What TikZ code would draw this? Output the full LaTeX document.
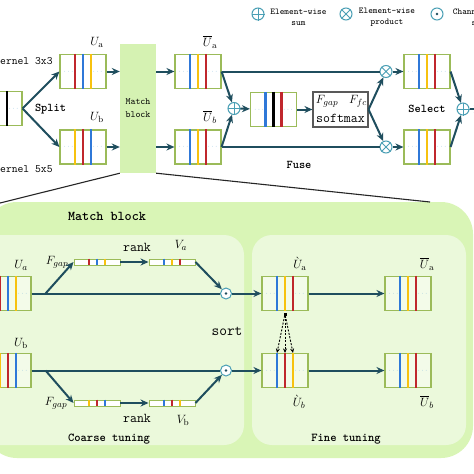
\documentclass[tikz,border=0pt]{standalone}
\usetikzlibrary{arrows.meta,calc}
\definecolor{olv}{HTML}{9BBB59}
\definecolor{cR}{HTML}{C0272D}
\definecolor{cB}{HTML}{2F78D8}
\definecolor{cY}{HTML}{F7C20F}
\definecolor{tealA}{HTML}{1F4E5E}
\definecolor{symc}{HTML}{4A9FB5}
\definecolor{mbg}{HTML}{D5F2B2}
\definecolor{outg}{HTML}{D9F5B6}
\definecolor{ing}{HTML}{EBF9DB}
\definecolor{dotc}{HTML}{7FB8DA}
\newcommand\chanbox[7]{%
  \node[#1] (#2) at (#3,#4) {};
  \foreach \o/\c in {-8/#5,0/#6,8/#7}{\draw[line width=2.2pt,draw=\c] ([xshift=\o pt]#2.north) -- ([xshift=\o pt]#2.south);}
  \node[dotsty] (#2-dl) at ([xshift=-14.5pt]#2.center) {$\cdots$};
  \node[dotsty] (#2-dr) at ([xshift=14.5pt]#2.center) {$\cdots$};
}
\newcommand\chanbar[6]{%
  \node[thinbar] (#1) at (#2,#3) {};
  \foreach \o/\c in {-8/#4,0/#5,8/#6}{\draw[line width=1.8pt,draw=\c] ([xshift=\o pt]#1.north) -- ([xshift=\o pt]#1.south);}
}
\newcommand\plussym[1]{\draw[symc,line width=0.9pt] (#1.north)--(#1.south) (#1.east)--(#1.west);}
\newcommand\timessym[1]{\draw[symc,line width=0.9pt] (#1.north east)--(#1.south west) (#1.north west)--(#1.south east);}
\newcommand\dotsym[1]{\fill[tealA] (#1.center) circle (1.3);}
\begin{document}
\begin{tikzpicture}[x=1pt,y=-1pt,
  chbox/.style={draw=olv,line width=1.1pt,fill=white,minimum width=46pt,minimum height=34pt,inner sep=0pt},
  chboxb/.style={chbox,fill=ing!60!white},
  thinbar/.style={draw=olv,line width=0.9pt,fill=white,minimum width=46pt,minimum height=6pt,inner sep=0pt},
  dotsty/.style={font=\fontsize{7.5}{7.5}\selectfont,text=dotc,inner sep=0pt},
  arr/.style={draw=tealA,line width=2pt,-{Stealth[length=8pt,width=7pt]}},
  ln/.style={draw=tealA,line width=2pt},
  dsh/.style={draw=black,line width=0.9pt,dashed,dash pattern=on 2pt off 1.5pt,-{Stealth[length=4.5pt,width=4pt]}},
  sym/.style={circle,draw=symc,line width=1pt,fill=white,minimum size=12pt,inner sep=0pt},
  mlbl/.style={font=\fontsize{12.5}{12.5}\selectfont,inner sep=0pt},
  mono/.style={font=\fontsize{11.3}{11.3}\selectfont\ttfamily,inner sep=0pt},
  bmono/.style={font=\fontsize{11.8}{11.8}\selectfont\ttfamily\bfseries,inner sep=0pt},
  legtxt/.style={font=\fontsize{8.9}{11}\selectfont\ttfamily,align=center,inner sep=0pt},
  rtxt/.style={font=\fontsize{13.5}{13.5}\selectfont\ttfamily,inner sep=0pt}
]
\useasboundingbox (0,0) rectangle (474,474);
\begin{scope}
\clip (0,0) rectangle (474,474);
\fill[white] (0,0) rectangle (474,474);
% ---------- bottom region backgrounds ----------
\fill[outg,rounded corners=32pt] (-15,202) rectangle (473,458);
\fill[ing,rounded corners=20pt] (-20,235) rectangle (244,445);
\fill[ing,rounded corners=20pt] (252,235) rectangle (466,445);
% ---------- legend ----------
\node[sym] (lg1) at (258,14) {}; \plussym{lg1}
\node[legtxt] (lt1) at (298.5,17.5) {Element-wise\\sum};
\node[sym] (lg2) at (346,14) {}; \timessym{lg2}
\node[legtxt] (lt2) at (387,17.5) {Element-wise\\product};
\node[sym] (lg3) at (437,14) {}; \dotsym{lg3}
\node[legtxt] (lt3) at (481,17.5) {Channel-wise\\sort};
% ---------- top part ----------
\node[mono] (k3) at (23.5,61) {Kernel 3x3};
\node[mono] (k5) at (23.5,169) {Kernel 5x5};
\node[bmono] (split) at (50.5,109) {Split};
\node[fill=mbg,minimum width=36pt,minimum height=129pt,inner sep=0pt,align=center,
      font=\fontsize{9.5}{13}\selectfont\ttfamily] (mb) at (138,108.5) {Match\\block};
\chanbox{chbox}{in}{-1}{108.5}{cY}{cR}{black}
\chanbox{chbox}{Ua}{83}{71.5}{cR}{cB}{cY}
\chanbox{chbox}{Ub}{83}{147}{cY}{cR}{cB}
\chanbox{chbox}{Uba}{198}{71.5}{cB}{cY}{cR}
\chanbox{chbox}{Ubb}{198}{147}{cB}{cY}{cR}
\chanbox{chbox}{fu}{273.5}{109.5}{cB}{black}{cR}
\chanbox{chbox}{Sa}{427}{71.5}{cB}{cY}{cR}
\chanbox{chbox}{Sb}{427}{147}{cB}{cY}{cR}
\node[mlbl] (lUa) at (97,42) {$U_{\mathrm a}$};
\node[mlbl] (lUb) at (97,117) {$U_{\mathrm b}$};
\node[mlbl] (lUba) at (210,42) {$\overline{U}_{\mathrm a}$};
\node[mlbl] (lUbb) at (210,117) {$\overline{U}_{b}$};
\node[draw=gray!70!black,line width=1.1pt,fill=white,minimum width=55pt,minimum height=35pt,inner sep=0pt] (fb) at (340.5,109.5) {};
\node[mlbl] (fg) at (327,101) {$F_{gap}$};
\node[mlbl] (ff) at (358,101) {$F_{fc}$};
\node[rtxt] (sm) at (340.5,118) {softmax};
\node[sym] (p1) at (234,108.5) {}; \plussym{p1}
\node[sym] (ot1) at (386,71.5) {}; \timessym{ot1}
\node[sym] (ot2) at (386,147) {}; \timessym{ot2}
\node[sym] (p2) at (463,109) {}; \plussym{p2}
\node[bmono] (sel) at (427,109) {Select};
\node[bmono] (fuse) at (299,165) {Fuse};
\coordinate (outc) at (482,109);
\draw[arr] (in.east) -- (Ua.west);
\draw[arr] (in.east) -- (Ub.west);
\draw[arr] (Ua.east) -- (Ua.east -| mb.west);
\draw[arr] (Ub.east) -- (Ub.east -| mb.west);
\draw[arr] (Ua.east -| mb.east) -- (Uba.west);
\draw[arr] (Ub.east -| mb.east) -- (Ubb.west);
\draw[ln] (Uba.east) -- (ot1);
\draw[ln] (Ubb.east) -- (ot2);
\draw[arr] (Uba.east) -- (p1);
\draw[arr] (Ubb.east) -- (p1);
\draw[arr] (p1) -- (fu);
\draw[arr] (fu) -- (fb);
\draw[arr] (fb.east) -- (ot1);
\draw[arr] (fb.east) -- (ot2);
\draw[arr] (ot1) -- (Sa);
\draw[arr] (ot2) -- (Sb);
\draw[arr] (Sa.east) -- (p2);
\draw[arr] (Sb.east) -- (p2);
\draw[arr] (p2) -- (outc);
% zoom lines
\coordinate (zl) at (0,203);
\coordinate (zr) at (430,202);
\draw[black!85,line width=1.1pt] (mb.south west) -- (zl);
\draw[black!85,line width=1.1pt] (mb.south east) -- (zr);
% ---------- match block detail ----------
\node[font=\fontsize{13.5}{13.5}\selectfont\ttfamily\bfseries,inner sep=0pt] (mbt) at (107,216) {Match block};
\chanbox{chboxb}{Ua1}{8}{293.5}{cR}{cB}{cY}
\chanbox{chboxb}{Ub1}{8}{370.5}{cY}{cR}{cB}
\chanbox{chboxb}{Ua2}{285}{293.5}{cB}{cY}{cR}
\chanbox{chboxb}{Ub2}{285}{370.5}{cB}{cR}{cY}
\chanbox{chboxb}{Ua3}{408}{293.5}{cB}{cY}{cR}
\chanbox{chboxb}{Ub3}{408}{370.5}{cB}{cY}{cR}
\chanbar{b1}{97}{262}{cR}{cB}{cY}
\chanbar{b2}{172}{262}{cB}{cY}{cR}
\chanbar{b3}{97}{403}{cY}{cR}{cB}
\chanbar{b4}{172}{403}{cB}{cR}{cY}
\node[sym,minimum size=11pt] (od1) at (226,293.5) {}; \dotsym{od1}
\node[sym,minimum size=11pt] (od2) at (226,370.5) {}; \dotsym{od2}
\node[mlbl] (lUa1) at (21,265) {$U_a$};
\node[mlbl] (lUb1) at (21,343) {$U_{\mathrm b}$};
\node[mlbl] (fg1) at (57,262) {$F_{gap}$};
\node[mlbl] (fg2) at (56,403) {$F_{gap}$};
\node[rtxt] (rk1) at (137,247) {rank};
\node[rtxt] (rk2) at (137,418) {rank};
\node[mlbl] (lVa) at (181,245) {$V_a$};
\node[mlbl] (lVb) at (183,420) {$V_{\mathrm b}$};
\node[font=\fontsize{15}{15}\selectfont\ttfamily,inner sep=0pt] (srt) at (227,331) {sort};
\node[mlbl] (lUa2) at (300,264) {$\grave{U}_{\mathrm a}$};
\node[mlbl] (lUb2) at (299,402) {$\grave{U}_{b}$};
\node[mlbl] (lUa3) at (427,264) {$\overline{U}_{\mathrm a}$};
\node[mlbl] (lUb3) at (427,402) {$\overline{U}_{b}$};
\node[font=\fontsize{12}{12}\selectfont\ttfamily\bfseries,inner sep=0pt] (ct) at (109,439) {Coarse tuning};
\node[font=\fontsize{12}{12}\selectfont\ttfamily\bfseries,inner sep=0pt] (ft) at (346,439) {Fine tuning};
\coordinate (br1) at ($(Ua1.east)+(14,0)$);
\coordinate (br2) at ($(Ub1.east)+(14,0)$);
\draw[ln] (Ua1.east) -- (od1);
\draw[ln] (Ub1.east) -- (od2);
\draw[arr] (br1) -- (b1.west);
\draw[arr] (br2) -- (b3.west);
\draw[arr] (b1) -- (b2);
\draw[arr] (b3) -- (b4);
\draw[arr] (b2.east) -- (od1);
\draw[arr] (b4.east) -- (od2);
\draw[arr] (od1) -- (Ua2);
\draw[arr] (od2) -- (Ub2);
\draw[arr] (Ua2) -- (Ua3);
\draw[arr] (Ub2) -- (Ub3);
\node[fill=black,minimum size=3pt,inner sep=0pt] (ds) at (285,314) {};
\draw[dsh] (ds) -- ([xshift=-8pt]Ub2.north);
\draw[dsh] (ds) -- (Ub2.north);
\draw[dsh] (ds) -- ([xshift=8pt]Ub2.north);
\end{scope}
\end{tikzpicture}
\end{document}
